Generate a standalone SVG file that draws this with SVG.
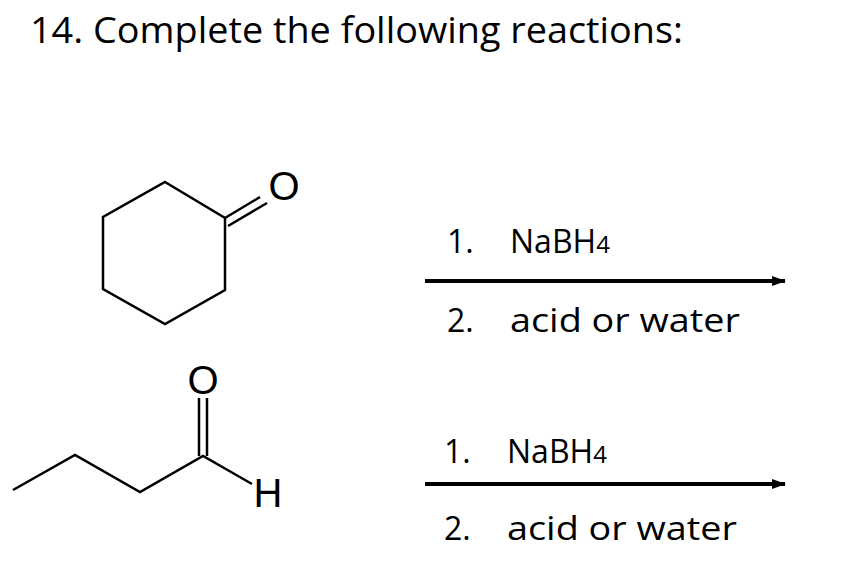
<svg xmlns="http://www.w3.org/2000/svg" width="864" height="576" viewBox="0 0 864 576">
<defs><marker id="ah" markerWidth="14" markerHeight="10" refX="13" refY="5" orient="auto" markerUnits="userSpaceOnUse"><path d="M0,0 L14,5 L0,10 Z" fill="#000"/></marker></defs>
<style>.b{stroke:#000;stroke-width:2.5;fill:none;stroke-linejoin:miter}.t{font-family:"Open Sans","Liberation Sans",sans-serif;fill:#000}.a{font-family:"Liberation Sans",Arial,sans-serif;fill:#000;font-size:40px}.c{stroke:#000;stroke-width:4}</style>
<rect width="864" height="576" fill="#fff"/>
<text class="t" x="30" y="43" font-size="37" textLength="653" lengthAdjust="spacingAndGlyphs">14. Complete the following reactions:</text>
<g id="cyclohexanone">
<polygon class="b" points="165,182 225,218 225,290 165,324 103,289 103,217"/>
<line class="b" x1="225" y1="218" x2="260" y2="197"/>
<line class="b" x1="228" y1="226" x2="267" y2="203"/>
<text class="a" x="284" y="200" text-anchor="middle">O</text>
</g>
<g id="butanal">
<polyline class="b" points="13,490 75,455 140,492 203,456 252,484"/>
<line class="b" x1="199" y1="456" x2="199" y2="398"/>
<line class="b" x1="207" y1="456" x2="207" y2="398"/>
<text class="a" x="203" y="394" text-anchor="middle">O</text>
<text class="a" x="268" y="507" text-anchor="middle">H</text>
</g>
<g id="connectors">
<line class="c" x1="425" y1="281" x2="785" y2="281" marker-end="url(#ah)"/>
<line class="c" x1="425" y1="484" x2="785" y2="484" marker-end="url(#ah)"/>
</g>
<g id="reagents1">
<text class="t" x="447" y="253" font-size="32">1.<tspan x="510">NaBH<tspan font-size="24">4</tspan></tspan></text>
<text class="t" x="447" y="332" font-size="32">2.<tspan x="510" textLength="230" lengthAdjust="spacingAndGlyphs">acid or water</tspan></text>
</g>
<g id="reagents2">
<text class="t" x="444" y="463" font-size="32">1.<tspan x="507">NaBH<tspan font-size="24">4</tspan></tspan></text>
<text class="t" x="444" y="540" font-size="32">2.<tspan x="507" textLength="230" lengthAdjust="spacingAndGlyphs">acid or water</tspan></text>
</g>
</svg>
